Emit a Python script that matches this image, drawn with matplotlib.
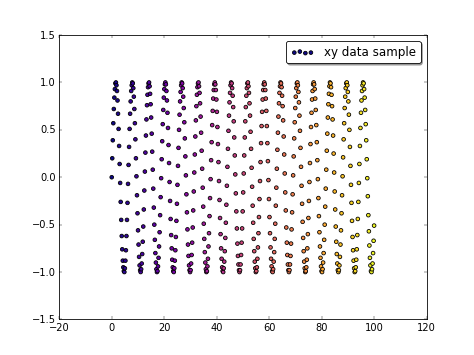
import matplotlib
matplotlib.use("Agg")
import matplotlib.pyplot as plt

#the sample: 500 x values from 0 to 100 and the y read for each of them
x = [0.0, 0.2, 0.4, 0.6, 0.8, 1.0, 1.2, 1.4, 1.6, 1.8,
     2.0, 2.2, 2.4, 2.61, 2.81, 3.01, 3.21, 3.41, 3.61, 3.81,
     4.01, 4.21, 4.41, 4.61, 4.81, 5.01, 5.21, 5.41, 5.61, 5.81,
     6.01, 6.21, 6.41, 6.61, 6.81, 7.01, 7.21, 7.41, 7.62, 7.82,
     8.02, 8.22, 8.42, 8.62, 8.82, 9.02, 9.22, 9.42, 9.62, 9.82,
     10.02, 10.22, 10.42, 10.62, 10.82, 11.02, 11.22, 11.42, 11.62, 11.82,
     12.02, 12.22, 12.42, 12.63, 12.83, 13.03, 13.23, 13.43, 13.63, 13.83,
     14.03, 14.23, 14.43, 14.63, 14.83, 15.03, 15.23, 15.43, 15.63, 15.83,
     16.03, 16.23, 16.43, 16.63, 16.83, 17.03, 17.23, 17.43, 17.64, 17.84,
     18.04, 18.24, 18.44, 18.64, 18.84, 19.04, 19.24, 19.44, 19.64, 19.84,
     20.04, 20.24, 20.44, 20.64, 20.84, 21.04, 21.24, 21.44, 21.64, 21.84,
     22.04, 22.24, 22.44, 22.65, 22.85, 23.05, 23.25, 23.45, 23.65, 23.85,
     24.05, 24.25, 24.45, 24.65, 24.85, 25.05, 25.25, 25.45, 25.65, 25.85,
     26.05, 26.25, 26.45, 26.65, 26.85, 27.05, 27.25, 27.45, 27.66, 27.86,
     28.06, 28.26, 28.46, 28.66, 28.86, 29.06, 29.26, 29.46, 29.66, 29.86,
     30.06, 30.26, 30.46, 30.66, 30.86, 31.06, 31.26, 31.46, 31.66, 31.86,
     32.06, 32.26, 32.46, 32.67, 32.87, 33.07, 33.27, 33.47, 33.67, 33.87,
     34.07, 34.27, 34.47, 34.67, 34.87, 35.07, 35.27, 35.47, 35.67, 35.87,
     36.07, 36.27, 36.47, 36.67, 36.87, 37.07, 37.27, 37.47, 37.68, 37.88,
     38.08, 38.28, 38.48, 38.68, 38.88, 39.08, 39.28, 39.48, 39.68, 39.88,
     40.08, 40.28, 40.48, 40.68, 40.88, 41.08, 41.28, 41.48, 41.68, 41.88,
     42.08, 42.28, 42.48, 42.69, 42.89, 43.09, 43.29, 43.49, 43.69, 43.89,
     44.09, 44.29, 44.49, 44.69, 44.89, 45.09, 45.29, 45.49, 45.69, 45.89,
     46.09, 46.29, 46.49, 46.69, 46.89, 47.09, 47.29, 47.49, 47.7, 47.9,
     48.1, 48.3, 48.5, 48.7, 48.9, 49.1, 49.3, 49.5, 49.7, 49.9,
     50.1, 50.3, 50.5, 50.7, 50.9, 51.1, 51.3, 51.5, 51.7, 51.9,
     52.1, 52.3, 52.51, 52.71, 52.91, 53.11, 53.31, 53.51, 53.71, 53.91,
     54.11, 54.31, 54.51, 54.71, 54.91, 55.11, 55.31, 55.51, 55.71, 55.91,
     56.11, 56.31, 56.51, 56.71, 56.91, 57.11, 57.31, 57.52, 57.72, 57.92,
     58.12, 58.32, 58.52, 58.72, 58.92, 59.12, 59.32, 59.52, 59.72, 59.92,
     60.12, 60.32, 60.52, 60.72, 60.92, 61.12, 61.32, 61.52, 61.72, 61.92,
     62.12, 62.32, 62.53, 62.73, 62.93, 63.13, 63.33, 63.53, 63.73, 63.93,
     64.13, 64.33, 64.53, 64.73, 64.93, 65.13, 65.33, 65.53, 65.73, 65.93,
     66.13, 66.33, 66.53, 66.73, 66.93, 67.13, 67.33, 67.54, 67.74, 67.94,
     68.14, 68.34, 68.54, 68.74, 68.94, 69.14, 69.34, 69.54, 69.74, 69.94,
     70.14, 70.34, 70.54, 70.74, 70.94, 71.14, 71.34, 71.54, 71.74, 71.94,
     72.14, 72.34, 72.55, 72.75, 72.95, 73.15, 73.35, 73.55, 73.75, 73.95,
     74.15, 74.35, 74.55, 74.75, 74.95, 75.15, 75.35, 75.55, 75.75, 75.95,
     76.15, 76.35, 76.55, 76.75, 76.95, 77.15, 77.35, 77.56, 77.76, 77.96,
     78.16, 78.36, 78.56, 78.76, 78.96, 79.16, 79.36, 79.56, 79.76, 79.96,
     80.16, 80.36, 80.56, 80.76, 80.96, 81.16, 81.36, 81.56, 81.76, 81.96,
     82.16, 82.36, 82.57, 82.77, 82.97, 83.17, 83.37, 83.57, 83.77, 83.97,
     84.17, 84.37, 84.57, 84.77, 84.97, 85.17, 85.37, 85.57, 85.77, 85.97,
     86.17, 86.37, 86.57, 86.77, 86.97, 87.17, 87.37, 87.58, 87.78, 87.98,
     88.18, 88.38, 88.58, 88.78, 88.98, 89.18, 89.38, 89.58, 89.78, 89.98,
     90.18, 90.38, 90.58, 90.78, 90.98, 91.18, 91.38, 91.58, 91.78, 91.98,
     92.18, 92.38, 92.59, 92.79, 92.99, 93.19, 93.39, 93.59, 93.79, 93.99,
     94.19, 94.39, 94.59, 94.79, 94.99, 95.19, 95.39, 95.59, 95.79, 95.99,
     96.19, 96.39, 96.59, 96.79, 96.99, 97.19, 97.39, 97.6, 97.8, 98.0,
     98.2, 98.4, 98.6, 98.8, 99.0, 99.2, 99.4, 99.6, 99.8, 100.0]

y = [0.0, 0.2, 0.39, 0.57, 0.72, 0.84, 0.93, 0.99, 1.0, 0.97,
     0.91, 0.81, 0.67, 0.51, 0.33, 0.14, -0.06, -0.26, -0.45, -0.62,
     -0.76, -0.88, -0.95, -0.99, -1.0, -0.96, -0.88, -0.77, -0.62, -0.45,
     -0.27, -0.07, 0.13, 0.32, 0.51, 0.67, 0.8, 0.91, 0.97, 1.0,
     0.99, 0.94, 0.85, 0.72, 0.57, 0.4, 0.2, 0.01, -0.19, -0.38,
     -0.56, -0.71, -0.84, -0.93, -0.98, -1.0, -0.97, -0.91, -0.81, -0.68,
     -0.52, -0.34, -0.14, 0.06, 0.26, 0.44, 0.61, 0.76, 0.87, 0.95,
     0.99, 1.0, 0.96, 0.88, 0.77, 0.63, 0.46, 0.27, 0.08, -0.12,
     -0.32, -0.5, -0.66, -0.8, -0.9, -0.97, -1.0, -0.99, -0.94, -0.85,
     -0.73, -0.58, -0.4, -0.21, -0.01, 0.19, 0.38, 0.56, 0.71, 0.84,
     0.93, 0.98, 1.0, 0.98, 0.91, 0.81, 0.68, 0.52, 0.34, 0.15,
     -0.05, -0.25, -0.44, -0.61, -0.75, -0.87, -0.95, -0.99, -1.0, -0.96,
     -0.88, -0.77, -0.63, -0.46, -0.28, -0.08, 0.12, 0.31, 0.5, 0.66,
     0.8, 0.9, 0.97, 1.0, 0.99, 0.94, 0.85, 0.73, 0.58, 0.41,
     0.22, 0.02, -0.18, -0.37, -0.55, -0.71, -0.83, -0.93, -0.98, -1.0,
     -0.98, -0.91, -0.82, -0.69, -0.53, -0.35, -0.15, 0.05, 0.24, 0.43,
     0.6, 0.75, 0.87, 0.95, 0.99, 1.0, 0.96, 0.89, 0.78, 0.64,
     0.47, 0.28, 0.09, -0.11, -0.31, -0.49, -0.65, -0.79, -0.9, -0.97,
     -1.0, -0.99, -0.94, -0.86, -0.73, -0.59, -0.41, -0.22, -0.02, 0.18,
     0.37, 0.55, 0.7, 0.83, 0.92, 0.98, 1.0, 0.98, 0.92, 0.82,
     0.69, 0.53, 0.35, 0.16, -0.04, -0.24, -0.43, -0.6, -0.75, -0.86,
     -0.95, -0.99, -1.0, -0.96, -0.89, -0.78, -0.64, -0.48, -0.29, -0.09,
     0.11, 0.3, 0.49, 0.65, 0.79, 0.89, 0.97, 1.0, 0.99, 0.94,
     0.86, 0.74, 0.59, 0.42, 0.23, 0.03, -0.17, -0.36, -0.54, -0.7,
     -0.83, -0.92, -0.98, -1.0, -0.98, -0.92, -0.82, -0.69, -0.54, -0.36,
     -0.16, 0.04, 0.23, 0.42, 0.59, 0.74, 0.86, 0.94, 0.99, 1.0,
     0.96, 0.89, 0.78, 0.65, 0.48, 0.3, 0.1, -0.1, -0.3, -0.48,
     -0.65, -0.78, -0.89, -0.96, -1.0, -0.99, -0.95, -0.86, -0.74, -0.59,
     -0.42, -0.23, -0.04, 0.16, 0.36, 0.54, 0.69, 0.82, 0.92, 0.98,
     1.0, 0.98, 0.92, 0.83, 0.7, 0.54, 0.36, 0.17, -0.03, -0.23,
     -0.42, -0.59, -0.74, -0.86, -0.94, -0.99, -1.0, -0.97, -0.89, -0.79,
     -0.65, -0.49, -0.3, -0.11, 0.09, 0.29, 0.47, 0.64, 0.78, 0.89,
     0.96, 1.0, 0.99, 0.95, 0.86, 0.75, 0.6, 0.43, 0.24, 0.04,
     -0.16, -0.35, -0.53, -0.69, -0.82, -0.92, -0.98, -1.0, -0.98, -0.92,
     -0.83, -0.7, -0.55, -0.37, -0.18, 0.02, 0.22, 0.41, 0.58, 0.73,
     0.85, 0.94, 0.99, 1.0, 0.97, 0.9, 0.79, 0.65, 0.49, 0.31,
     0.11, -0.09, -0.28, -0.47, -0.64, -0.78, -0.89, -0.96, -1.0, -0.99,
     -0.95, -0.87, -0.75, -0.6, -0.43, -0.25, -0.05, 0.15, 0.35, 0.53,
     0.68, 0.82, 0.91, 0.98, 1.0, 0.98, 0.93, 0.83, 0.71, 0.55,
     0.37, 0.18, -0.02, -0.22, -0.41, -0.58, -0.73, -0.85, -0.94, -0.99,
     -1.0, -0.97, -0.9, -0.8, -0.66, -0.5, -0.31, -0.12, 0.08, 0.28,
     0.46, 0.63, 0.77, 0.88, 0.96, 1.0, 0.99, 0.95, 0.87, 0.75,
     0.61, 0.44, 0.25, 0.05, -0.15, -0.34, -0.52, -0.68, -0.81, -0.91,
     -0.98, -1.0, -0.98, -0.93, -0.84, -0.71, -0.56, -0.38, -0.19, 0.01,
     0.21, 0.4, 0.57, 0.73, 0.85, 0.94, 0.99, 1.0, 0.97, 0.9,
     0.8, 0.66, 0.5, 0.32, 0.12, -0.08, -0.27, -0.46, -0.63, -0.77,
     -0.88, -0.96, -1.0, -0.99, -0.95, -0.87, -0.76, -0.61, -0.44, -0.26,
     -0.06, 0.14, 0.33, 0.52, 0.68, 0.81, 0.91, 0.97, 1.0, 0.99,
     0.93, 0.84, 0.71, 0.56, 0.39, 0.19, -0.01, -0.2, -0.4, -0.57,
     -0.72, -0.85, -0.93, -0.99, -1.0, -0.97, -0.91, -0.8, -0.67, -0.51]

series_label = 'xy data sample'

plt.style.use('classic')

fig = plt.figure(figsize=(8, 6))
#colour each point by its x value
plt.scatter(x, y, c=x, cmap='plasma', s=20, edgecolors='k', label=series_label)
plt.xlim(-20, 120)
plt.ylim(-1.5, 1.5)
plt.legend(loc='upper right', fancybox=True, shadow=True, scatterpoints=4)

fig.savefig('out.png', dpi=59.25)
